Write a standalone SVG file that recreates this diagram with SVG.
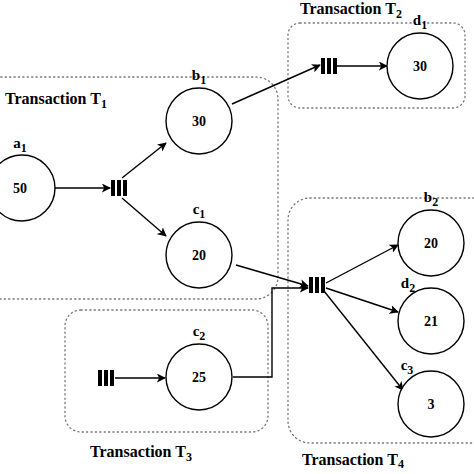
<svg xmlns="http://www.w3.org/2000/svg" width="474" height="474" viewBox="0 0 474 474">
<style>
.box{fill:none;stroke:#777;stroke-width:1.3;stroke-dasharray:1.2 3.2;stroke-linecap:round}
.node{fill:#fff;stroke:#000;stroke-width:1.4}
.val{font-family:'Liberation Serif','Times New Roman',serif;font-weight:bold;font-size:14px;text-anchor:middle;dominant-baseline:central}
.lbl{font-family:'Liberation Serif','Times New Roman',serif;font-weight:bold;font-size:15px;text-anchor:middle}
.title{font-family:'Liberation Serif','Times New Roman',serif;font-weight:bold;font-size:16px}
.sub{font-size:12px}
.edge{fill:none;stroke:#000;stroke-width:1.4}
.bar{fill:#000}
</style>
<defs>
<marker id="ah" viewBox="0 0 10 10" refX="9" refY="5" markerWidth="9" markerHeight="9" markerUnits="userSpaceOnUse" orient="auto">
<path d="M0,0 L10,5 L0,10 L2.5,5 z" fill="#000"/>
</marker>
<g id="gate">
<rect class="bar" x="0" y="0" width="4" height="16"/>
<rect class="bar" x="6" y="0" width="4" height="16"/>
<rect class="bar" x="12" y="0" width="4" height="16"/>
</g>
</defs>
<g id="boxes">
<rect id="T1" class="box" x="-30" y="77" width="308" height="222" rx="22"/>
<rect id="T2" class="box" x="288" y="23" width="177" height="85" rx="12"/>
<rect id="T3" class="box" x="65" y="310" width="203" height="122" rx="16"/>
<rect id="T4" class="box" x="288" y="198" width="210" height="245" rx="22"/>
</g>
<g id="titles">
<text class="title" x="5" y="104">Transaction T<tspan class="sub" dy="4">1</tspan></text>
<text class="title" x="300" y="14">Transaction T<tspan class="sub" dy="4">2</tspan></text>
<text class="title" x="90" y="457">Transaction T<tspan class="sub" dy="4">3</tspan></text>
<text class="title" x="302" y="465">Transaction T<tspan class="sub" dy="3">4</tspan></text>
</g>
<g id="connectors">
<line class="edge" x1="55" y1="188" x2="110" y2="188" marker-end="url(#ah)"/>
<line class="edge" x1="122" y1="178" x2="166" y2="143" marker-end="url(#ah)"/>
<line class="edge" x1="122" y1="198" x2="166" y2="236" marker-end="url(#ah)"/>
<line class="edge" x1="232" y1="104" x2="320" y2="65" marker-end="url(#ah)"/>
<line class="edge" x1="337" y1="66" x2="387" y2="66" marker-end="url(#ah)"/>
<line class="edge" x1="115" y1="378" x2="165" y2="378" marker-end="url(#ah)"/>
<line class="edge" x1="236" y1="265" x2="308" y2="286" marker-end="url(#ah)"/>
<polyline class="edge" points="233,377 272,377 272,288 308,288" marker-end="url(#ah)"/>
<line class="edge" x1="326" y1="283" x2="398" y2="245" marker-end="url(#ah)"/>
<line class="edge" x1="326" y1="288" x2="398" y2="312" marker-end="url(#ah)"/>
<line class="edge" x1="324" y1="291" x2="403" y2="390" marker-end="url(#ah)"/>
</g>
<g id="gates">
<use href="#gate" x="111" y="180"/>
<use href="#gate" x="321" y="58"/>
<use href="#gate" x="98" y="370"/>
<use href="#gate" x="309" y="277"/>
</g>
<g id="a1"><circle class="node" cx="22" cy="188" r="33"/><text class="val" x="20" y="188">50</text><text class="lbl" x="20" y="148">a<tspan class="sub" dy="4">1</tspan></text></g>
<g id="b1"><circle class="node" cx="199" cy="121" r="33"/><text class="val" x="199" y="121">30</text><text class="lbl" x="199" y="80">b<tspan class="sub" dy="4">1</tspan></text></g>
<g id="c1"><circle class="node" cx="199" cy="255" r="33"/><text class="val" x="199" y="255">20</text><text class="lbl" x="199" y="214">c<tspan class="sub" dy="4">1</tspan></text></g>
<g id="d1"><circle class="node" cx="420" cy="66" r="33"/><text class="val" x="420" y="66">30</text><text class="lbl" x="420" y="25">d<tspan class="sub" dy="4">1</tspan></text></g>
<g id="c2"><circle class="node" cx="199" cy="377" r="33"/><text class="val" x="199" y="377">25</text><text class="lbl" x="199" y="336">c<tspan class="sub" dy="4">2</tspan></text></g>
<g id="b2"><circle class="node" cx="431" cy="243" r="33"/><text class="val" x="431" y="243">20</text><text class="lbl" x="431" y="202">b<tspan class="sub" dy="4">2</tspan></text></g>
<g id="d2"><circle class="node" cx="431" cy="321" r="33"/><text class="val" x="431" y="321">21</text><text class="lbl" x="408" y="288">d<tspan class="sub" dy="4">2</tspan></text></g>
<g id="c3"><circle class="node" cx="431" cy="404" r="33"/><text class="val" x="431" y="404">3</text><text class="lbl" x="407" y="370">c<tspan class="sub" dy="4">3</tspan></text></g>
</svg>
